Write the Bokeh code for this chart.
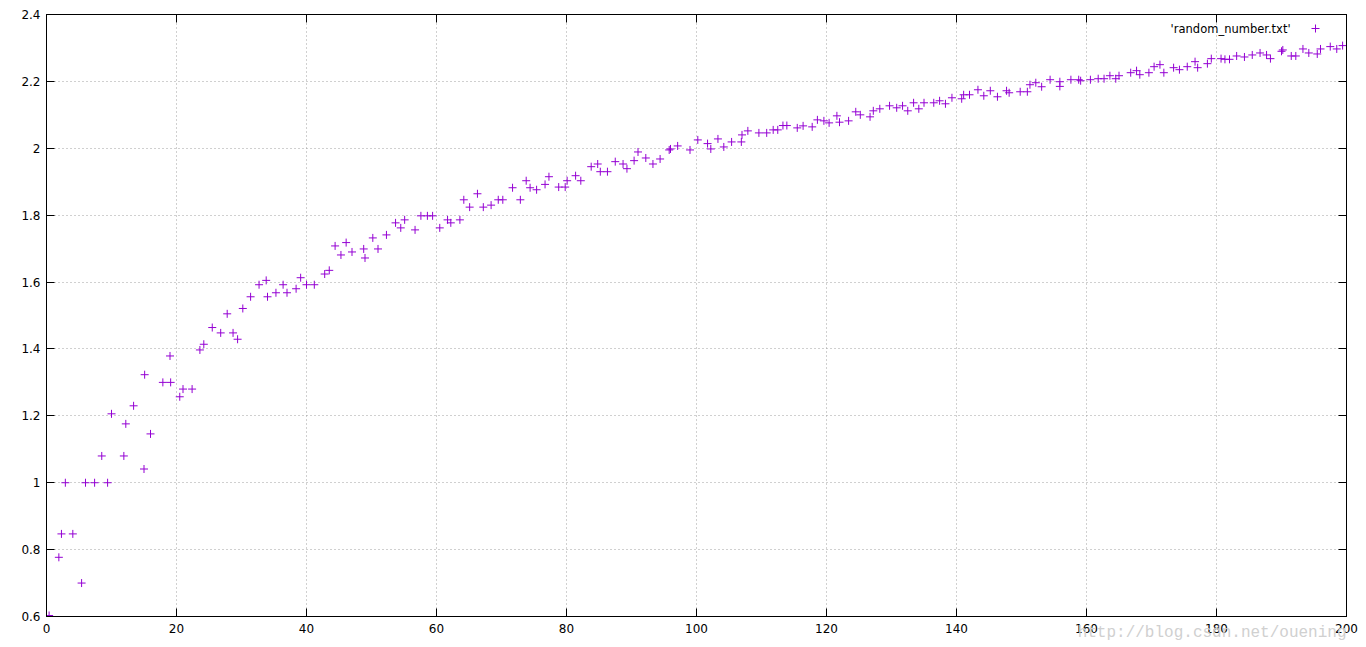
from bokeh.plotting import figure
from bokeh.models import (Range1d, FixedTicker, LinearAxis, CustomJSTickFormatter,
                          Label, Legend, LegendItem, Title)
from bokeh.embed import file_html
from bokeh.resources import INLINE

# ---- data ----
x_vals = [0.4, 1.9, 2.3, 2.9, 4.05, 5.4, 6.0, 7.4, 8.5, 9.4, 10.0, 11.9, 12.2, 13.4, 15.0, 15.1,
          16.0, 17.9, 19.0, 19.1, 20.5, 21.0, 22.4, 23.6, 24.2, 25.5, 26.8, 27.8, 28.7, 29.4,
          30.2, 31.4, 32.7, 33.8, 34.0, 35.3, 36.4, 37.0, 38.4, 39.1, 40.0, 41.2, 42.8, 43.5,
          44.4, 45.3, 46.1, 47.0, 48.8, 49.0, 50.2, 51.0, 52.3, 53.7, 54.5, 55.1, 56.7, 57.6,
          58.6, 59.4, 60.5, 61.7, 62.2, 63.6, 64.2, 65.1, 66.3, 67.2, 68.4, 69.5, 70.2, 71.7,
          72.9, 73.8, 74.4, 75.4, 76.7, 77.3, 78.8, 79.8, 80.1, 81.4, 82.2, 83.8, 84.8, 85.2,
          86.3, 87.5, 88.7, 89.3, 90.4, 91.0, 92.2, 93.3, 94.4, 95.8, 96.0, 97.1, 99.0, 100.2,
          101.7, 102.2, 103.3, 104.2, 105.4, 106.9, 107.0, 107.9, 109.6, 110.8, 111.8, 112.5,
          113.3, 113.9, 115.5, 116.4, 117.8, 118.6, 119.6, 120.4, 121.6, 122.0, 123.4, 124.5,
          125.2, 126.7, 127.2, 128.2, 129.7, 130.8, 131.7, 132.5, 133.4, 134.2, 135.0, 136.5,
          137.4, 138.3, 139.3, 140.8, 141.1, 142.0, 143.3, 144.2, 145.2, 146.3, 147.7, 148.1,
          149.8, 150.9, 151.3, 152.2, 153.1, 154.4, 155.9, 155.9, 157.6, 158.8, 159.1, 160.6,
          161.8, 162.7, 163.6, 164.5, 165.0, 166.8, 167.7, 168.2, 169.6, 170.4, 171.3, 171.9,
          173.4, 174.3, 175.5, 176.7, 177.1, 178.6, 179.2, 180.7, 181.3, 182.0, 183.1, 184.3,
          185.5, 186.7, 187.7, 188.3, 190.0, 190.2, 191.5, 192.2, 193.3, 194.2, 195.5, 196.0,
          197.5, 198.5, 199.4]
y_vals = [0.603, 0.777, 0.847, 1.0, 0.847, 0.70, 1.0, 1.0, 1.08, 1.0, 1.206, 1.08, 1.176, 1.23,
          1.041, 1.323, 1.146, 1.30, 1.379, 1.30, 1.257, 1.28, 1.28, 1.397, 1.414, 1.464, 1.448,
          1.505, 1.448, 1.429, 1.521, 1.556, 1.592, 1.605, 1.556, 1.568, 1.592, 1.568, 1.580,
          1.613, 1.592, 1.592, 1.624, 1.635, 1.708, 1.681, 1.718, 1.690, 1.699, 1.672, 1.732,
          1.699, 1.741, 1.777, 1.762, 1.786, 1.756, 1.798, 1.798, 1.798, 1.762, 1.786, 1.777,
          1.786, 1.846, 1.824, 1.864, 1.824, 1.830, 1.846, 1.846, 1.882, 1.846, 1.903, 1.882,
          1.876, 1.892, 1.915, 1.884, 1.884, 1.903, 1.918, 1.903, 1.945, 1.953, 1.930, 1.930,
          1.960, 1.953, 1.939, 1.963, 1.989, 1.971, 1.953, 1.968, 1.995, 1.998, 2.007, 1.995,
          2.025, 2.014, 1.998, 2.028, 2.004, 2.019, 2.019, 2.040, 2.052, 2.046, 2.046, 2.055,
          2.055, 2.068, 2.068, 2.061, 2.067, 2.064, 2.085, 2.082, 2.076, 2.097, 2.078, 2.082,
          2.109, 2.100, 2.094, 2.112, 2.118, 2.127, 2.121, 2.127, 2.112, 2.136, 2.118, 2.136,
          2.136, 2.142, 2.133, 2.151, 2.148, 2.160, 2.160, 2.175, 2.157, 2.172, 2.154, 2.172,
          2.166, 2.169, 2.169, 2.190, 2.196, 2.184, 2.205, 2.199, 2.185, 2.205, 2.205, 2.202,
          2.205, 2.208, 2.208, 2.217, 2.208, 2.217, 2.226, 2.232, 2.220, 2.226, 2.244, 2.250,
          2.226, 2.241, 2.235, 2.244, 2.259, 2.241, 2.253, 2.268, 2.268, 2.266, 2.266, 2.276,
          2.273, 2.279, 2.285, 2.279, 2.268, 2.290, 2.294, 2.276, 2.276, 2.297, 2.285, 2.282,
          2.297, 2.304, 2.297, 2.307]
x_ticks = [0, 20, 40, 60, 80, 100, 120, 140, 160, 180, 200]
y_ticks = [0.6, 0.8, 1.0, 1.2, 1.4, 1.6, 1.8, 2.0, 2.2, 2.4]
series_name = "'random_number.txt'"
watermark = "http://blog.csdn.net/ouening"

PURPLE = "#9400d3"
FONT = "DejaVu Sans"

p = figure(frame_width=1300, frame_height=602,
           x_range=Range1d(0, 200), y_range=Range1d(0.6, 2.4),
           output_backend="svg", toolbar_location=None,
           min_border_left=46, min_border_top=14, min_border_right=18, min_border_bottom=30)

p.outline_line_color = "black"
p.outline_line_alpha = 1
p.outline_line_width = 1
p.background_fill_color = "white"
p.border_fill_color = "white"

# watermark first in the "below" stack? (title panel is placed after the axis)
wm = Title(text=watermark, align="right", vertical_align="top", standoff=-24, offset=0,
           text_font="Liberation Mono", text_font_size="16px", text_font_style="normal",
           text_color="#d0d0d0")
p.add_layout(wm, "below")

fmt = CustomJSTickFormatter(code="return String(Math.round(tick*10)/10)")
blank = CustomJSTickFormatter(code="return ''")

for ax, ticks in ((p.xaxis[0], x_ticks), (p.yaxis[0], y_ticks)):
    ax.ticker = FixedTicker(ticks=ticks)
    ax.formatter = fmt
    ax.major_tick_in = 8
    ax.major_tick_out = 0
    ax.minor_tick_in = 0
    ax.minor_tick_out = 0
    ax.axis_line_color = "black"
    ax.major_tick_line_color = "black"
    ax.major_label_text_font = FONT
    ax.major_label_text_font_size = "12px"
    ax.major_label_text_color = "black"
p.xaxis[0].major_label_standoff = 7
p.yaxis[0].major_label_standoff = 6

# mirrored ticks on top and right
for loc, ticks in (("above", x_ticks), ("right", y_ticks)):
    ax = LinearAxis(ticker=FixedTicker(ticks=ticks), formatter=blank,
                    major_tick_in=8, major_tick_out=0, minor_tick_in=0, minor_tick_out=0,
                    major_label_text_font_size="0px", major_label_standoff=0,
                    axis_line_color="black", major_tick_line_color="black")
    p.add_layout(ax, loc)

for g in (p.xgrid[0], p.ygrid[0]):
    g.grid_line_color = "#a0a0a0"
    g.grid_line_dash = "1 3"
    g.grid_line_width = 1

r = p.scatter(x_vals, y_vals, marker="cross", size=8, line_color=PURPLE, line_width=1)

# legend: text then sample marker (gnuplot style)
leg = Legend(items=[LegendItem(label=" ", renderers=[r])], location=(1259, 578),
             padding=0, margin=0, spacing=0, glyph_width=20, glyph_height=20,
             label_width=0, label_height=20, label_standoff=0,
             label_text_font_size="1px", border_line_color=None, background_fill_alpha=0)
p.add_layout(leg)

p.add_layout(Label(x=191.4, y=2.358, text=series_name, text_align="right",
                   text_baseline="middle", text_font=FONT, text_font_size="11.5px",
                   text_color="black"))

open("out.html", "w").write(file_html(p, INLINE))
